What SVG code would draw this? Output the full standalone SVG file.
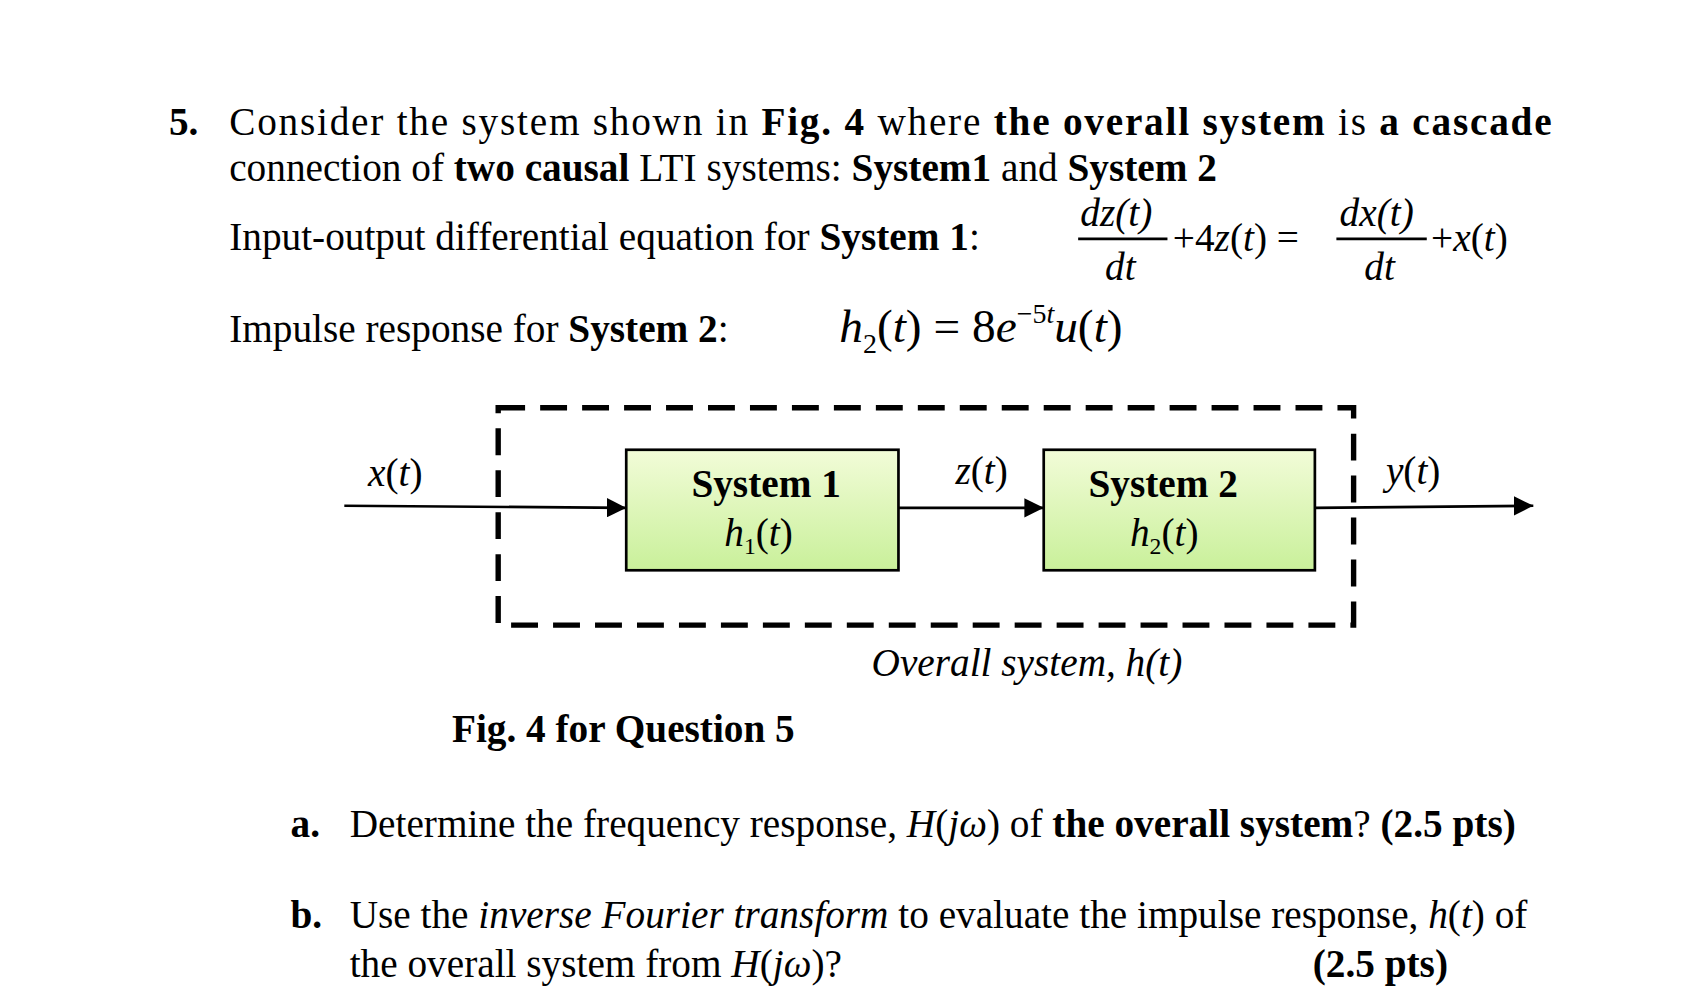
<svg xmlns="http://www.w3.org/2000/svg" width="1685" height="1000" viewBox="0 0 1685 1000">
<style>
text{font-family:"Liberation Serif",serif;font-size:36.5px;fill:#000}
.b{font-weight:bold}
.i{font-style:italic}
.blk{fill:url(#g);stroke:#000;stroke-width:2.5}
.ln{stroke:#000;stroke-width:2.5;fill:none}
</style>
<defs>
<linearGradient id="g" x1="0" y1="0" x2="0" y2="1"><stop offset="0" stop-color="#f2fcd8"/><stop offset="1" stop-color="#c9f09a"/></linearGradient>
<marker id="ab" viewBox="0 0 10 10" refX="10" refY="5" markerWidth="18" markerHeight="18" orient="auto" markerUnits="userSpaceOnUse"><path d="M0,0L10,5L0,10z"/></marker>
</defs>
<g transform="scale(1.076)">
<text x="157" y="125" class="b">5.</text>
<text x="213" y="125" textLength="1229" lengthAdjust="spacing">Consider the system shown in <tspan class="b">Fig. 4</tspan> where <tspan class="b">the overall system</tspan> is <tspan class="b">a cascade</tspan></text>
<text x="213" y="168">connection of <tspan class="b">two causal</tspan> LTI systems: <tspan class="b">System1</tspan> and <tspan class="b">System 2</tspan></text>
<text x="213" y="232">Input-output differential equation for <tspan class="b">System 1</tspan>:</text>
<g id="eq1">
<text x="1004" y="210" class="i">dz(t)</text>
<line x1="1002" y1="222" x2="1085" y2="222" class="ln" stroke-width="1.5"/>
<text x="1027" y="260" class="i">dt</text>
<text x="1090" y="233">+4<tspan class="i">z</tspan>(<tspan class="i">t</tspan>) =</text>
<text x="1245" y="210" class="i">dx(t)</text>
<line x1="1242" y1="222" x2="1326" y2="222" class="ln" stroke-width="1.5"/>
<text x="1268" y="260" class="i">dt</text>
<text x="1330" y="233">+<tspan class="i">x</tspan>(<tspan class="i">t</tspan>)</text>
</g>
<text x="213" y="318">Impulse response for <tspan class="b">System 2</tspan>:</text>
<text x="780" y="318" style="font-size:44px"><tspan class="i">h</tspan><tspan dy="10" style="font-size:26px">2</tspan><tspan dy="-10">(</tspan><tspan class="i">t</tspan>) = 8<tspan class="i">e</tspan><tspan dy="-18" style="font-size:26px">−5<tspan class="i">t</tspan></tspan><tspan dy="18" class="i">u</tspan>(<tspan class="i">t</tspan>)</text>
<rect x="463" y="379" width="795" height="202" fill="none" stroke="#000" stroke-width="5" stroke-dasharray="25 14"/>
<g id="sys1"><rect x="582" y="418" width="253" height="112" class="blk"/>
<text x="712" y="462" class="b" text-anchor="middle">System  1</text>
<text x="705" y="507" text-anchor="middle"><tspan class="i">h</tspan><tspan dy="8" style="font-size:22px">1</tspan><tspan dy="-8">(</tspan><tspan class="i">t</tspan>)</text></g>
<g id="sys2"><rect x="970" y="418" width="252" height="112" class="blk"/>
<text x="1081" y="462" class="b" text-anchor="middle">System  2</text>
<text x="1082" y="507" text-anchor="middle"><tspan class="i">h</tspan><tspan dy="8" style="font-size:22px">2</tspan><tspan dy="-8">(</tspan><tspan class="i">t</tspan>)</text></g>
<g id="connectors">
<line x1="320" y1="470" x2="582" y2="472" class="ln" marker-end="url(#ab)"/>
<line x1="835" y1="472" x2="970" y2="472" class="ln" marker-end="url(#ab)"/>
<line x1="1222" y1="472" x2="1425" y2="470" class="ln" marker-end="url(#ab)"/>
</g>
<text x="342" y="452"><tspan class="i">x</tspan>(<tspan class="i">t</tspan>)</text>
<text x="888" y="450"><tspan class="i">z</tspan>(<tspan class="i">t</tspan>)</text>
<text x="1288" y="450"><tspan class="i">y</tspan>(<tspan class="i">t</tspan>)</text>
<text x="810" y="628" class="i">Overall  system,  h(<tspan>t</tspan>)</text>
<text x="420" y="690" class="b">Fig. 4 for Question 5</text>
<text x="270" y="778" class="b">a.</text>
<text x="325" y="778">Determine the frequency response, <tspan class="i">H</tspan>(<tspan class="i">jω</tspan>) of <tspan class="b">the overall system</tspan>? <tspan class="b">(2.5 pts)</tspan></text>
<text x="270" y="862" class="b">b.</text>
<text x="325" y="862">Use the <tspan class="i">inverse Fourier transform</tspan> to evaluate the impulse response, <tspan class="i">h</tspan>(<tspan class="i">t</tspan>) of</text>
<text x="325" y="908">the overall system from <tspan class="i">H</tspan>(<tspan class="i">jω</tspan>)?</text>
<text x="1220" y="908" class="b">(2.5 pts)</text>
</g>
</svg>
